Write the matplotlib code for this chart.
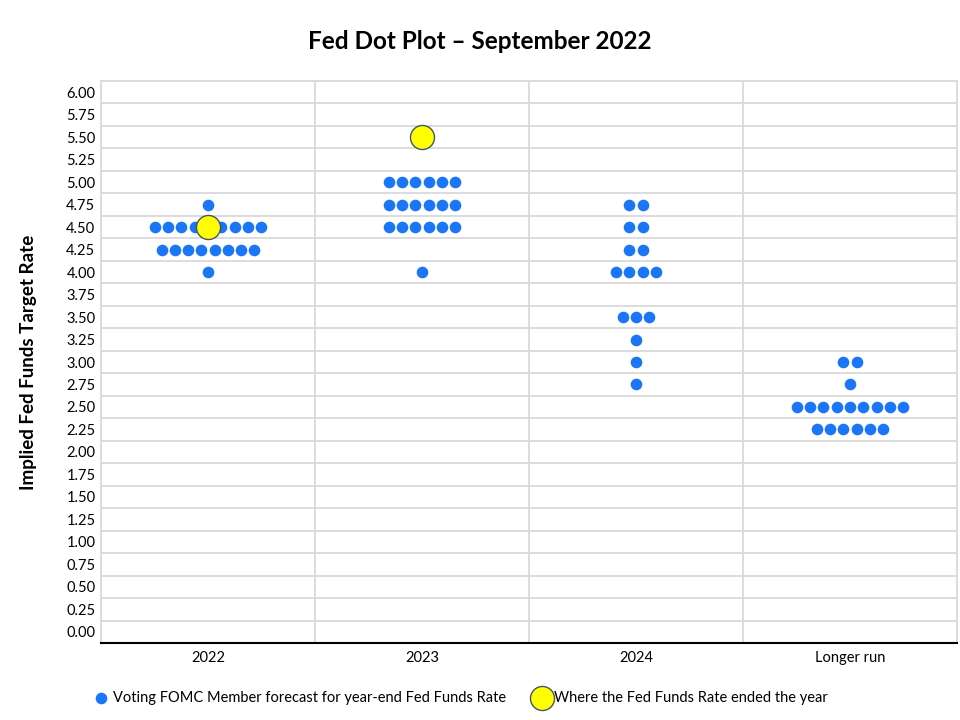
import matplotlib
matplotlib.use('Agg')
import matplotlib.pyplot as plt
import numpy as np

plt.rcParams['font.family'] = ['Lato', 'DejaVu Sans']

# columns of the dot plot
YEARS = ['2022', '2023', '2024', 'Longer run']

# forecast levels (as shown on the axis) and number of dots at each level
RATES_2022 = [4.75, 4.50, 4.25, 4.00]
COUNTS_2022 = [1, 9, 8, 1]
RATES_2023 = [5.00, 4.75, 4.50, 4.00]
COUNTS_2023 = [6, 6, 6, 1]
RATES_2024 = [4.75, 4.50, 4.25, 4.00, 3.50, 3.25, 3.00, 2.75]
COUNTS_2024 = [2, 2, 2, 4, 3, 1, 1, 1]
RATES_LR = [3.00, 2.75, 2.50, 2.25]
COUNTS_LR = [2, 1, 9, 6]

# where the fed funds rate actually ended the year
ENDED_YEARS = ['2022', '2023']
ENDED_RATES = [4.50, 5.50]

BLUE = '#1a75f7'
DOT_GAP = 0.062


def main():
    fig = plt.figure(figsize=(9.6, 7.2), dpi=100)
    ax = fig.add_axes([0.1052, 0.1069, 0.8917, 0.7806])

    columns = [(RATES_2022, COUNTS_2022), (RATES_2023, COUNTS_2023),
               (RATES_2024, COUNTS_2024), (RATES_LR, COUNTS_LR)]
    xs, ys = [], []
    for col, (rates, counts) in enumerate(columns):
        center = col + 0.5
        for r, n in zip(rates, counts):
            for i in range(n):
                xs.append(center + (i - (n - 1) / 2.0) * DOT_GAP)
                ys.append(r)
    blue = ax.scatter(xs, ys, s=70, color=BLUE, zorder=3, linewidths=0,
                      label='Voting FOMC Member forecast for year-end Fed Funds Rate')

    ex = [YEARS.index(y) + 0.5 for y in ENDED_YEARS]
    yellow = ax.scatter(ex, ENDED_RATES, s=300, color='#ffff00', edgecolors='#44546a',
                        linewidths=1.0, zorder=4,
                        label='Where the Fed Funds Rate ended the year')

    ax.set_xlim(0, 4)
    ax.set_ylim(-0.125, 6.125)
    ax.set_yticks(np.arange(0, 6.01, 0.25))
    ax.set_yticklabels(['%.2f' % v for v in np.arange(0, 6.01, 0.25)], fontsize=10.5)
    ax.set_xticks([0.5, 1.5, 2.5, 3.5])
    ax.set_xticklabels(YEARS, fontsize=10.5)
    ax.tick_params(length=0, pad=4)
    ax.tick_params(axis='x', pad=6)

    # grid lines sit between the labelled levels
    for g in np.arange(-0.125, 6.2, 0.25):
        ax.axhline(g, color='#d9d9d9', lw=1.3, zorder=1)
    for v in [1, 2, 3]:
        ax.axvline(v, color='#d9d9d9', lw=1.3, zorder=1)
    for s in ['left', 'right', 'top']:
        ax.spines[s].set_color('#d9d9d9')
        ax.spines[s].set_linewidth(1.3)
    ax.spines['bottom'].set_color('black')
    ax.spines['bottom'].set_linewidth(1.5)

    ax.set_ylabel('Implied Fed Funds Target Rate', fontsize=13.5, fontweight='bold', labelpad=21)
    fig.text(0.5, 0.942, 'Fed Dot Plot \u2013 September 2022', ha='center', va='center',
             fontsize=17.5, fontweight='bold')

    fig.legend(handles=[blue, yellow], loc='center left', bbox_to_anchor=(0.0976, 0.0306),
               ncol=2, frameon=False, fontsize=10.5, handlelength=1.0, handletextpad=0.3,
               columnspacing=2.0, borderpad=0, borderaxespad=0)

    fig.savefig('out.png', dpi=100)


if __name__ == "__main__":
    main()
